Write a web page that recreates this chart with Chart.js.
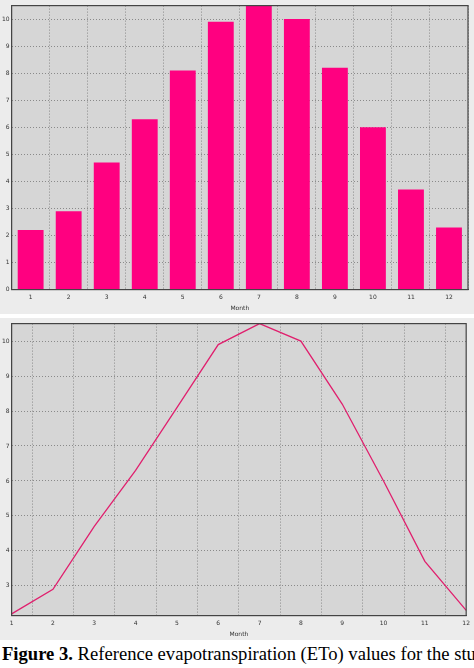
<!DOCTYPE html>
<html><head><meta charset="utf-8">
<script src="https://cdn.jsdelivr.net/npm/chart.js@4/dist/chart.umd.min.js"></script>
<style>
body{margin:0;background:#fff;width:474px;height:668px;overflow:hidden;position:relative}
#c1w{position:absolute;left:0;top:0;width:474px;height:314px;background:#ececec}
#c2w{position:absolute;left:0;top:318px;width:474px;height:322px;background:#ececec}
#cap{position:absolute;left:2px;top:643px;font-family:"Liberation Serif",serif;font-size:18.6px;white-space:nowrap;color:#000}
</style></head><body>
<div id="c1w"><canvas id="c1"></canvas></div>
<div id="c2w"><canvas id="c2"></canvas></div>
<div id="cap"><b>Figure 3.</b> Reference evapotranspiration (ETo) values for the study</div>
<script>
const months=["1","2","3","4","5","6","7","8","9","10","11","12"];
const eto=[2.2,2.9,4.7,6.3,8.1,9.9,10.5,10.0,8.2,6.0,3.7,2.3];
const pink="#ff0080";
const bg={id:'bg',beforeDraw(c){const a=c.chartArea,x=c.ctx;x.save();x.fillStyle="#d6d6d6";x.fillRect(a.left,a.top,a.right-a.left,a.bottom-a.top);x.restore();},
afterDraw(c){const a=c.chartArea,x=c.ctx;x.save();x.strokeStyle="#444";x.lineWidth=1.2;x.strokeRect(a.left,a.top,a.right-a.left,a.bottom-a.top);x.restore();}};
const tf={family:"DejaVu Sans",size:6};
const grid={color:"#8a8a8a",lineWidth:1,drawTicks:false};
const border={dash:[1,2],color:"#444"};
Chart.defaults.animation=false;
new Chart(document.getElementById('c1'),{type:'bar',plugins:[bg],
data:{labels:months,datasets:[{data:eto,backgroundColor:pink,barPercentage:0.68,categoryPercentage:1}]},
options:{responsive:true,maintainAspectRatio:false,layout:{padding:{left:0,right:6,top:3,bottom:2}},
plugins:{legend:{display:false},tooltip:{enabled:false}},
scales:{x:{grid:{...grid,offset:true},border:border,ticks:{font:tf,color:"#333",padding:4},title:{display:true,text:"Month",font:tf,color:"#333",padding:0}},
y:{min:0,max:10.5,grid:grid,border:border,ticks:{stepSize:1,font:tf,color:"#333",padding:2,callback:v=>Number.isInteger(v)?v:''}}}}});
new Chart(document.getElementById('c2'),{type:'line',plugins:[bg],
data:{labels:months,datasets:[{data:eto,borderColor:"#e0206e",borderWidth:1.3,pointRadius:0,tension:0}]},
options:{responsive:true,maintainAspectRatio:false,layout:{padding:{left:0,right:6,top:5,bottom:2}},
plugins:{legend:{display:false},tooltip:{enabled:false}},
scales:{x:{offset:false,grid:{...grid,offset:true},border:border,ticks:{font:tf,color:"#333",padding:4},title:{display:true,text:"Month",font:tf,color:"#333",padding:0}},
y:{min:2.15,max:10.5,grid:grid,border:border,ticks:{stepSize:1,font:tf,color:"#333",padding:2,callback:v=>Number.isInteger(v)?v:''}}}}});
</script></body></html>
